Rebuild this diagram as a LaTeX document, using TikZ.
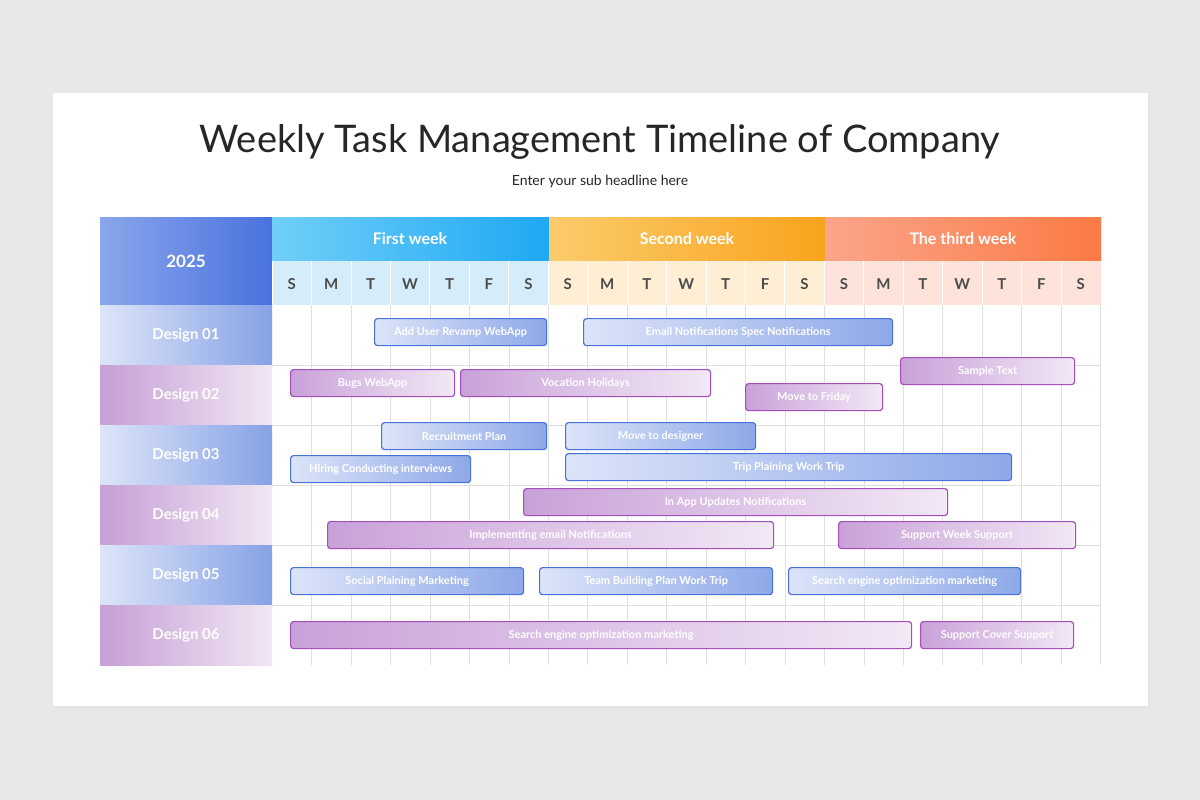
\documentclass[tikz,border=0pt]{standalone}
\usepackage{fontspec}
\setmainfont{Lato}
\definecolor{bgc}{HTML}{E9E8E9}
\definecolor{lb}{HTML}{DDE5F8}\definecolor{db}{HTML}{86A2E6}
\definecolor{lp}{HTML}{F1E7F4}\definecolor{dp}{HTML}{C69FD6}
\definecolor{ya}{HTML}{8AA6EA}\definecolor{yb}{HTML}{4A72E0}
\definecolor{w1a}{HTML}{70CFF8}\definecolor{w1b}{HTML}{1FA8F4}
\definecolor{w2a}{HTML}{FBCB6C}\definecolor{w2b}{HTML}{F9A41C}
\definecolor{w3a}{HTML}{FBA58A}\definecolor{w3b}{HTML}{FB7A44}
\definecolor{d1}{HTML}{D5ECFB}\definecolor{d2}{HTML}{FDEED4}\definecolor{d3}{HTML}{FDE3DA}
\definecolor{bbd}{HTML}{4A72DA}\definecolor{bbl}{HTML}{DCE4F8}\definecolor{bbr}{HTML}{8EA8E8}
\definecolor{pbd}{HTML}{A450BA}\definecolor{pbl}{HTML}{C9A1D9}\definecolor{pbr}{HTML}{F2E8F5}
\begin{document}
\begin{tikzpicture}[x=1pt,y=-1pt,
 bbar/.style={draw=bbd, line width=1.2pt, rounded corners=3pt, left color=bbl, right color=bbr, font=\fontsize{11}{12}\selectfont\bfseries, text=white, inner sep=0pt},
 pbar/.style={draw=pbd, line width=1.2pt, rounded corners=3pt, left color=pbl, right color=pbr, font=\fontsize{11}{12}\selectfont\bfseries, text=white, inner sep=0pt},
 lab/.style={font=\fontsize{15}{16}\selectfont\bfseries, text=white},
 wlab/.style={font=\fontsize{16}{18}\selectfont\bfseries, text=white},
 day/.style={font=\fontsize{15}{16}\selectfont\bfseries, text=black!70}]
\useasboundingbox (0,0) rectangle (1200,800);
\fill[bgc] (0,0) rectangle (1200,800);
\fill[black!10] (55,96) rectangle (1150,709);
\fill[white] (53,93) rectangle (1148,706);
\node[font=\fontsize{38}{40}\selectfont, text=black!85] (title) at (600,142) {Weekly Task Management Timeline of Company};
\node[font=\fontsize{14}{16}\selectfont, text=black!85] (sub) at (600,182) {Enter your sub headline here};
% header
\shade[left color=ya, right color=yb] (100,217) rectangle (272,305);
\node[lab, font=\fontsize{17}{18}\selectfont\bfseries] (yr) at (186,261) {2025};
\shade[left color=w1a,right color=w1b] (272,217) rectangle (549,261);
\shade[left color=w2a,right color=w2b] (549,217) rectangle (825,261);
\shade[left color=w3a,right color=w3b] (825,217) rectangle (1101,261);
\node[wlab] (wk1) at (410,239) {First week};
\node[wlab] (wk2) at (687,239) {Second week};
\node[wlab] (wk3) at (963,239) {The third week};
\fill[d1] (272,261) rectangle (549,305);
\fill[d2] (549,261) rectangle (825,305);
\fill[d3] (825,261) rectangle (1101,305);
\foreach \i in {0,...,20} \draw[white, line width=0.8pt] ({272+\i*39.45},261) -- ({272+\i*39.45},305);
\foreach \d [count=\i from 0] in {S,M,T,W,T,F,S,S,M,T,W,T,F,S,S,M,T,W,T,F,S}
  \node[day] (d\i) at ({272+19.7+\i*39.45},284) {\d};
% grid
\foreach \i in {1,...,21} \draw[black!12] ({272+\i*39.45},305) -- ({272+\i*39.45},665);
\foreach \y in {365,425,485,545,605} \draw[black!12] (272,\y) -- (1101,\y);
% row labels
\foreach \r [count=\k from 1] in {01,02,03,04,05,06}{
  \pgfmathsetmacro\yt{305+(\k-1)*60}
  \ifodd\k
    \shade[left color=lb,right color=db] (100,\yt) rectangle (272,\yt+60);
  \else
    \shade[left color=dp,right color=lp] (100,\yt) rectangle (272,\yt+60);
  \fi
  \node[lab] (r\k) at (186,\yt+30) {Design \r};
}
% bars
\newcommand\gbar[6]{\node[#1, minimum width=#4-#3, minimum height=27pt, anchor=north west] (#2) at (#3,#5) {#6};}
\gbar{bbar}{b1}{374}{546}{318}{Add User Revamp WebApp}
\gbar{bbar}{b2}{583}{892}{318}{Email Notifications Spec Notifications}
\gbar{pbar}{b3}{290}{454}{369}{Bugs WebApp}
\gbar{pbar}{b4}{460}{710}{369}{Vocation Holidays}
\gbar{pbar}{b5}{745}{882}{383}{Move to Friday}
\gbar{pbar}{b6}{900}{1074}{357}{Sample Text}
\gbar{bbar}{b7}{381}{546}{422}{Recruitment Plan}
\gbar{bbar}{b8}{565}{755}{422}{Move to designer}
\gbar{bbar}{b9}{290}{470}{455}{Hiring Conducting interviews}
\gbar{bbar}{b10}{565}{1011}{453}{Trip Plaining Work Trip}
\gbar{pbar}{b11}{523}{947}{488}{In App Updates Notifications}
\gbar{pbar}{b12}{327}{773}{521}{Implementing email Notifications}
\gbar{pbar}{b13}{838}{1075}{521}{Support Week Support}
\gbar{bbar}{b14}{290}{523}{567}{Social Plaining Marketing}
\gbar{bbar}{b15}{539}{772}{567}{Team Building Plan Work Trip}
\gbar{bbar}{b16}{788}{1020}{567}{Search engine optimization marketing}
\gbar{pbar}{b17}{290}{911}{621}{Search engine optimization marketing}
\gbar{pbar}{b18}{920}{1073}{621}{Support Cover Support}
\end{tikzpicture}
\end{document}
